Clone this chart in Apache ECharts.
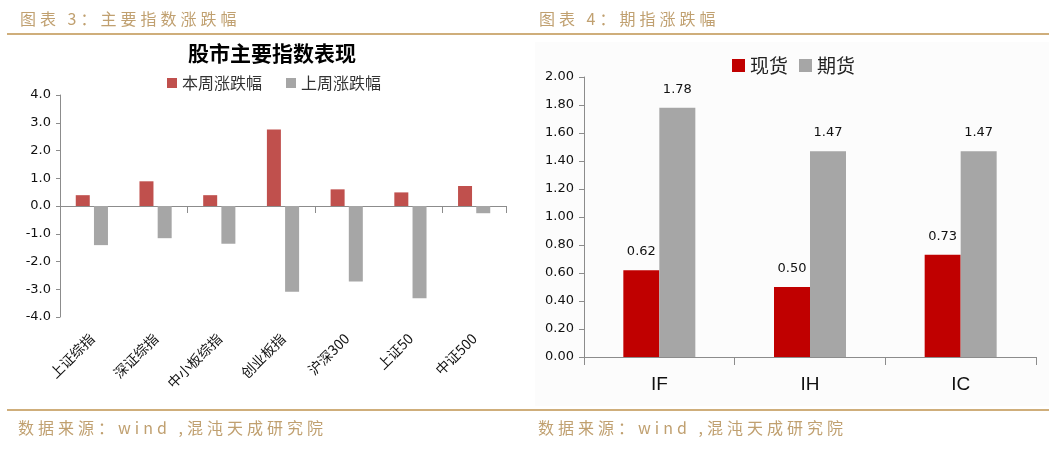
<!DOCTYPE html>
<html>
<head>
<meta charset="utf-8">
<script src="https://cdn.jsdelivr.net/npm/echarts@6/dist/echarts.min.js"></script>
<style>
  html, body { margin: 0; padding: 0; background: #fff; }
  #wrap { position: relative; width: 1054px; height: 449px; overflow: hidden; background: #fff; }
  #chart { position: absolute; left: 0; top: 0; width: 1054px; height: 449px; z-index: 2; }
  .hdr { position: absolute; font-family: "Noto Sans CJK SC", sans-serif; font-size: 16px; letter-spacing: 4px; color: #c0a070; white-space: nowrap; z-index: 3; line-height: 20px; }
  .rule { position: absolute; left: 7px; width: 1042px; height: 2px; background: #cfae7b; z-index: 3; }
  #panel { position: absolute; left: 535px; top: 42px; width: 514px; height: 364px; background: #fcfcfc; z-index: 1; }
</style>
</head>
<body>
<div id="wrap">
  <div id="panel"></div>
  <div class="hdr" style="left:20px; top:8px;">图表 3：主要指数涨跌幅</div>
  <div class="hdr" style="left:539px; top:8px;">图表 4：期指涨跌幅</div>
  <div class="rule" style="top:33px;"></div>
  <div class="rule" style="top:409px;"></div>
  <div class="hdr" style="left:18px; top:417px;">数据来源：wind ,混沌天成研究院</div>
  <div class="hdr" style="left:538px; top:417px;">数据来源：wind ,混沌天成研究院</div>
  <div id="chart"></div>
</div>
<script>
// ---- data ----
const leftTitle = '股市主要指数表现';
const leftCategories = ['上证综指', '深证综指', '中小板综指', '创业板指', '沪深300', '上证50', '中证500'];
const thisWeekName = '本周涨跌幅';
const lastWeekName = '上周涨跌幅';
const thisWeek = [0.39, 0.89, 0.39, 2.76, 0.60, 0.49, 0.72];
const lastWeek = [-1.41, -1.16, -1.36, -3.09, -2.72, -3.32, -0.26];
const leftYTicks = { min: -4, max: 4, interval: 1 };

const rightCategories = ['IF', 'IH', 'IC'];
const spotName = '现货';
const futuresName = '期货';
const spot = [0.62, 0.50, 0.73];
const futures = [1.78, 1.47, 1.47];
const rightYTicks = { min: 0, max: 2, interval: 0.2 };

// ---- chart ----
const chart = echarts.init(document.getElementById('chart'), null, { renderer: 'canvas' });
const axisGray = '#8c8c8c';
const numFont = 'DejaVu Sans, sans-serif';
const cjkFont = '"Noto Sans CJK SC", sans-serif';

const option = {
  animation: false,
  title: [{
    text: leftTitle,
    left: 272, top: 43, textAlign: 'center', padding: 0,
    textStyle: { fontFamily: cjkFont, fontSize: 21, fontWeight: 'bold', color: '#000' }
  }],
  legend: [{
    data: [thisWeekName, lastWeekName],
    left: 167, top: 75, padding: 0,
    itemWidth: 10, itemHeight: 10, itemGap: 24,
    icon: 'rect',
    textStyle: { fontFamily: cjkFont, fontSize: 16, color: '#333' }
  }, {
    data: [spotName, futuresName],
    left: 732, top: 56, padding: 0,
    itemWidth: 13, itemHeight: 13, itemGap: 11,
    icon: 'rect',
    textStyle: { fontFamily: cjkFont, fontSize: 19, color: '#222' }
  }],
  grid: [
    { left: 60, top: 95, width: 446, height: 222, containLabel: false },
    { left: 584, top: 77, width: 452, height: 280, containLabel: false }
  ],
  xAxis: [{
    gridIndex: 0, type: 'category', data: leftCategories,
    axisLine: { onZero: true, lineStyle: { color: axisGray, width: 1 } },
    axisTick: { show: true, length: 7, lineStyle: { color: axisGray } },
    axisLabel: { show: false }
  }, {
    gridIndex: 0, type: 'category', data: leftCategories, position: 'bottom',
    axisLine: { show: false, onZero: false },
    axisTick: { show: false },
    axisLabel: { rotate: 45, margin: 19, fontFamily: cjkFont, fontSize: 14, color: '#111' }
  }, {
    gridIndex: 1, type: 'category', data: rightCategories,
    axisLine: { lineStyle: { color: axisGray, width: 1 } },
    axisTick: { show: true, length: 8, lineStyle: { color: axisGray } },
    axisLabel: { margin: 18, fontFamily: 'Liberation Sans, sans-serif', fontSize: 19, color: '#111' }
  }],
  yAxis: [{
    gridIndex: 0, type: 'value',
    min: leftYTicks.min, max: leftYTicks.max, interval: leftYTicks.interval,
    axisLine: { show: true, lineStyle: { color: axisGray } },
    axisTick: { show: true, length: 4, lineStyle: { color: axisGray } },
    splitLine: { show: false },
    axisLabel: { margin: 9, fontFamily: numFont, fontSize: 13, color: '#111', formatter: v => v.toFixed(1) }
  }, {
    gridIndex: 1, type: 'value',
    min: rightYTicks.min, max: rightYTicks.max, interval: rightYTicks.interval,
    axisLine: { show: true, lineStyle: { color: axisGray } },
    axisTick: { show: true, length: 5, lineStyle: { color: axisGray } },
    splitLine: { show: false },
    axisLabel: { margin: 10, fontFamily: numFont, fontSize: 13, color: '#111', formatter: v => v.toFixed(2) }
  }],
  series: [{
    name: thisWeekName, type: 'bar', xAxisIndex: 0, yAxisIndex: 0,
    data: thisWeek, barWidth: 14, barGap: '30%',
    itemStyle: { color: '#c0504d' }
  }, {
    name: lastWeekName, type: 'bar', xAxisIndex: 0, yAxisIndex: 0,
    data: lastWeek, barWidth: 14, barGap: '30%',
    itemStyle: { color: '#a6a6a6' }
  }, {
    name: spotName, type: 'bar', xAxisIndex: 2, yAxisIndex: 1,
    data: spot, barWidth: 36, barGap: '0%',
    itemStyle: { color: '#c00000' },
    label: { show: true, position: 'top', distance: 12, fontFamily: numFont, fontSize: 13, color: '#111', formatter: p => p.value.toFixed(2) }
  }, {
    name: futuresName, type: 'bar', xAxisIndex: 2, yAxisIndex: 1,
    data: futures, barWidth: 36, barGap: '0%',
    itemStyle: { color: '#a6a6a6' },
    label: { show: true, position: 'top', distance: 12, fontFamily: numFont, fontSize: 13, color: '#111', formatter: p => p.value.toFixed(2) }
  }]
};
chart.setOption(option);
</script>
</body>
</html>
